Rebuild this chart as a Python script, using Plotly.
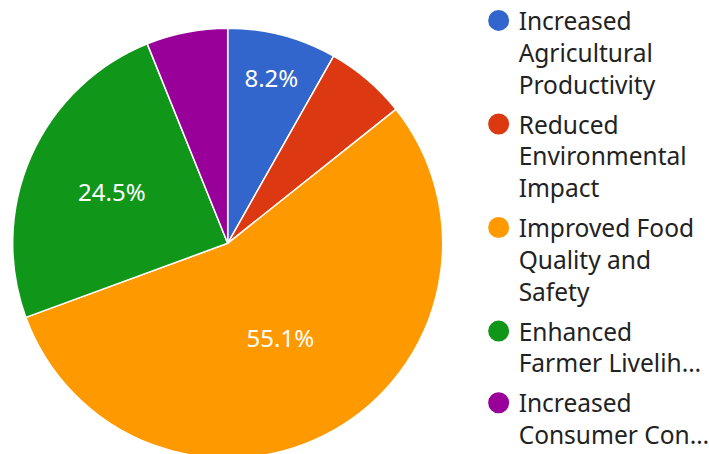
import plotly.graph_objects as go

categories = [
    "Increased Agricultural Productivity",
    "Reduced Environmental Impact",
    "Improved Food Quality and Safety",
    "Enhanced Farmer Livelihoods",
    "Increased Consumer Confidence",
]
legend_labels = [
    "Increased<br>Agricultural<br>Productivity",
    "Reduced<br>Environmental<br>Impact",
    "Improved Food<br>Quality and<br>Safety",
    "Enhanced<br>Farmer Livelih…",
    "Increased<br>Consumer Con…",
]
values = [8.2, 6.1, 55.1, 24.5, 6.1]
colors = ["#3366cc", "#dc3912", "#ff9900", "#109618", "#990099"]
show_pct = [True, False, True, True, False]

FONT = "Noto Sans"
W, H = 709, 460

fig = go.Figure()
fig.add_trace(go.Pie(
    labels=categories,
    values=values,
    sort=False,
    direction="clockwise",
    rotation=0,
    marker=dict(colors=colors, line=dict(color="white", width=1.5)),
    texttemplate=["%{percent:.1%}" if s else "" for s in show_pct],
    textposition="inside",
    insidetextorientation="horizontal",
    textfont=dict(family=FONT, size=24, color="white"),
    showlegend=False,
    domain=dict(x=[12.7 / W, 442.7 / W], y=[(H - 458.3) / H, (H - 28.3) / H]),
    hoverinfo="label+percent",
))

for i, (lab, col) in enumerate(zip(legend_labels, colors)):
    fig.add_trace(go.Scatter(
        x=[None], y=[None], mode="markers", name=lab,
        legendgroup=f"g{i}",
        marker=dict(symbol="circle", size=16, color=col,
                    line=dict(color=col, width=5)),
        showlegend=True,
    ))

fig.update_layout(
    width=W, height=H,
    margin=dict(l=0, r=0, t=0, b=0, autoexpand=False),
    paper_bgcolor="white", plot_bgcolor="white",
    xaxis=dict(visible=False), yaxis=dict(visible=False),
    font=dict(family=FONT, size=24.5, color="#222222"),
    legend=dict(
        x=0.6751, y=1 + 2 / H, xanchor="left", yanchor="top",
        valign="top", tracegroupgap=5, maxheight=2000,
        font=dict(family=FONT, size=24.5, color="#222222"),
        bgcolor="rgba(0,0,0,0)",
    ),
)

fig.write_html(
    "out.html",
    config={"displayModeBar": False},
    post_script="document.body.style.margin='0';document.body.style.overflow='hidden';",
)
